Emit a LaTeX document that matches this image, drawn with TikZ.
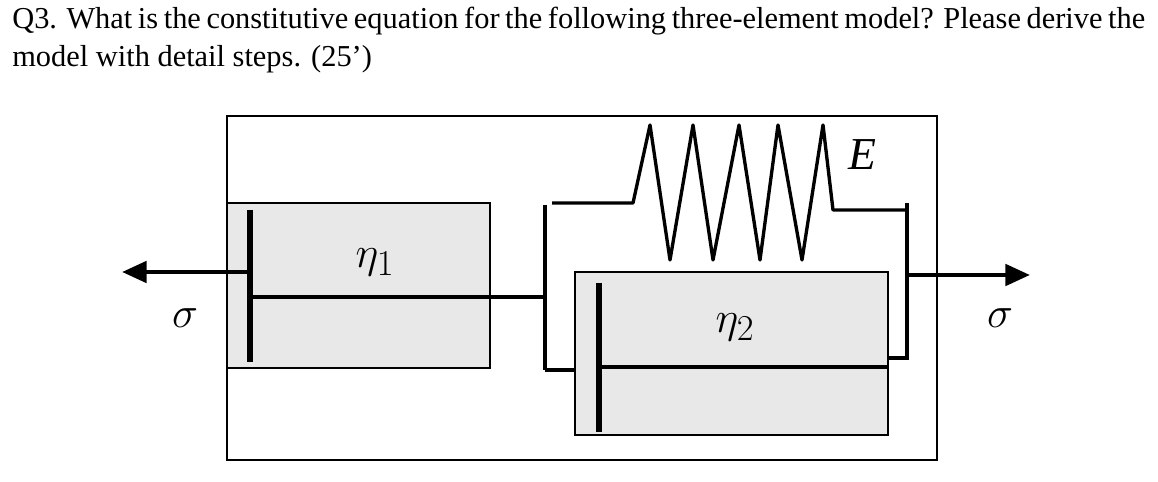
\documentclass[tikz,border=0pt]{standalone}
\usepackage{fontspec}
\setmainfont{Liberation Serif}
\usetikzlibrary{arrows.meta}
\begin{document}
\begin{tikzpicture}[x=0.02cm,y=-0.02cm,
  wire/.style={line width=1.9pt},
  pot/.style={fill=black!9,draw=black,line width=0.7pt},
  bar/.style={line width=3pt},
  force/.style={line width=2.6pt,-{Triangle[length=14pt,width=12pt]}},
  lbl/.style={font=\fontsize{30}{30}\selectfont}]
\useasboundingbox (0,0) rectangle (1158,482);
\node[anchor=north west,align=left,inner sep=0pt,font=\fontsize{17.3}{21.5}\selectfont] (title) at (12,7)
 {\makebox[22.66cm][s]{Q3. What is the constitutive equation for the following three-element model? Please derive the}\\ model with detail steps. (25')};
\draw[line width=0.9pt] (227,116) rectangle (937,460);
% dashpot 1
\draw[pot] (227,203) rectangle (490,368);
\node[lbl] (eta1) at (375,262) {$\eta_1$};
\coordinate (b1t) at (250,210); \coordinate (b1b) at (250,362);
\draw[bar] (b1t) -- (b1b);
\coordinate (r1) at (250,297); \coordinate (jl) at (545,297);
\draw[wire] (r1) -- (jl);
% left arrow
\coordinate (la) at (250,272); \coordinate (lt) at (122,272);
\draw[force] (la) -- (lt);
\node[lbl] (s1) at (185,318) {$\sigma$};
% bracket left
\coordinate (blt) at (545,205); \coordinate (blb) at (545,370);
\draw[wire] (blt) -- (blb);
\draw[wire,line join=round] (552,203) -- (633,203) -- (650,125) -- (670,260) -- (693,125) -- (713,260) -- (739,125) -- (760,260) -- (778,125) -- (802,260) -- (823,125) -- (833,210) -- (907,210);
\node[lbl,font=\fontsize{26}{26}\selectfont\itshape] (E) at (862,155) {E};
% dashpot 2
\draw[pot] (575,272) rectangle (888,435);
\node[lbl] (eta2) at (735,327) {$\eta_2$};
\draw[wire] (blb) -- (575,370);
\draw[bar] (599,283) -- (599,432);
\draw[wire] (599,367) -- (888,367);
% right bracket
\draw[wire] (907,203) -- (907,358) -- (888,358);
\coordinate (ra) at (907,275); \coordinate (rt) at (1030,275);
\draw[force] (ra) -- (rt);
\node[lbl] (s2) at (1000,318) {$\sigma$};
\end{tikzpicture}
\end{document}
